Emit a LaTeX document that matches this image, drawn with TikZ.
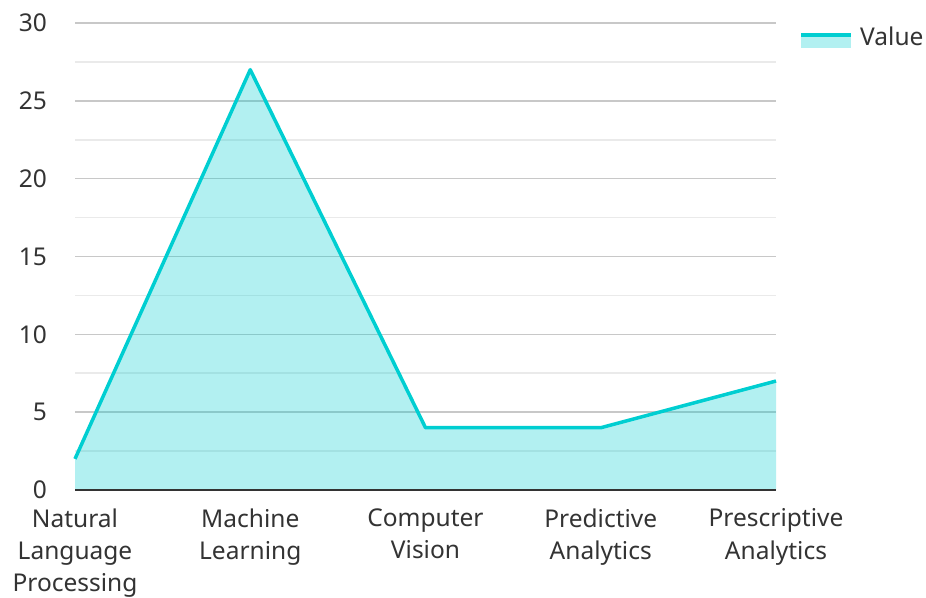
\documentclass[tikz,border=0pt]{standalone}
\usepackage{fontspec}
\setmainfont{Noto Sans}
\definecolor{kurve}{HTML}{00CED1}
\definecolor{gitter}{HTML}{C8C8C8}
\definecolor{gitterfein}{HTML}{EAEAEA}
\definecolor{schrift}{HTML}{333333}
\begin{document}
\begin{tikzpicture}[x=1pt,y=-1pt,
  beschriftung/.style={font=\fontsize{24.5}{32.3}\selectfont, text=schrift, inner sep=0pt},
  kategorie/.style={beschriftung, anchor=north, align=center, execute at begin node=\strut},
  hauptgitter/.style={gitter, line width=1.6pt},
  feingitter/.style={gitterfein, line width=1.6pt}]
  \useasboundingbox (0,0) rectangle (926,597);

  % Diagrammbereich in Dateneinheiten
  \begin{scope}[shift={(75,490)}, x=175.25pt, y=15.567pt]
    % Gitterlinien
    \foreach \v in {2.5,7.5,...,27.5}
      \draw[feingitter] (0,\v) -- (4,\v);
    \foreach \v in {5,10,...,30}
      \draw[hauptgitter] (0,\v) -- (4,\v);

    % Datenpunkte
    \coordinate (nlp) at (0,2);
    \coordinate (ml) at (1,27);
    \coordinate (cv) at (2,4);
    \coordinate (pa) at (3,4);
    \coordinate (psa) at (4,7);
    \coordinate (start) at (0,0);
    \coordinate (ende) at (4,0);

    % Flaeche und Linie
    \fill[kurve, fill opacity=0.3] (start) -- (nlp) -- (ml) -- (cv) -- (pa) -- (psa) -- (ende) -- cycle;
    \draw[kurve, line width=3.5pt, line join=round] (nlp) -- (ml) -- (cv) -- (pa) -- (psa);

    % Achse
    \draw[schrift, line width=2.2pt] (start) -- (ende);

    % Achsenbeschriftung y
    \foreach \v in {0,5,...,30}
      \node[beschriftung, anchor=east] (y\v) at ([xshift=-28pt]0,\v) {\v};

    % Achsenbeschriftung x
    \node[kategorie] (xnlp) at ([yshift=-18.5pt]0,0) {Natural\\Language\\Processing};
    \node[kategorie] (xml) at ([yshift=-18.5pt]1,0) {Machine\\Learning};
    \node[kategorie] (xcv) at ([yshift=-18.5pt]2,0) {Computer\\Vision};
    \node[kategorie] (xpa) at ([yshift=-18.5pt]3,0) {Predictive\\Analytics};
    \node[kategorie] (xpsa) at ([yshift=-18.5pt]4,0) {Prescriptive\\Analytics};
  \end{scope}

  % Legende
  \fill[kurve, fill opacity=0.3] (801,36.5) rectangle (851,47.5);
  \draw[kurve, line width=3.5pt] (801,35) -- (851,35);
  \node[beschriftung, anchor=west] (legende) at (860,36) {Value};
\end{tikzpicture}
\end{document}
